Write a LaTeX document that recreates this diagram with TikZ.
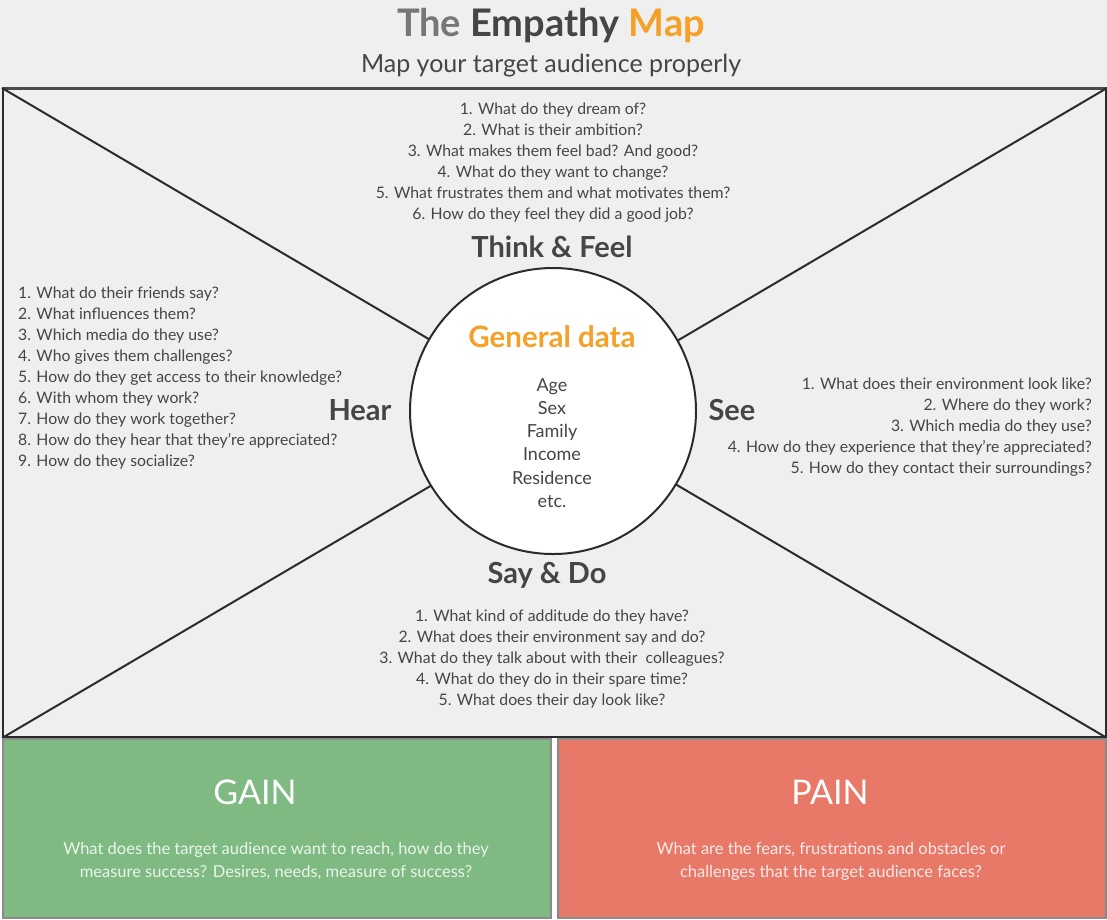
\documentclass[tikz,border=0pt]{standalone}
\usepackage{fontspec}
\setmainfont{Lato}
\usetikzlibrary{positioning}
\definecolor{mapgray}  {HTML}{EFEFEF}
\definecolor{framegray}{HTML}{2B2B2B}
\definecolor{rulegray} {HTML}{4A4A4A}
\definecolor{textgray} {HTML}{454545}
\definecolor{lightgray}{HTML}{777777}
\definecolor{maporange}{HTML}{F5A026}
\definecolor{gaingreen}{HTML}{7EBA82}
\definecolor{painred}  {HTML}{E87868}
\definecolor{boxedge}  {HTML}{8A8A8A}

\begin{document}
\begin{tikzpicture}[
  x=1pt, y=1pt,
  quest/.style ={font=\fontsize{15.8}{21}\selectfont,text=textgray,inner sep=0pt},
  head/.style  ={font=\fontsize{29}{32}\selectfont\bfseries,text=textgray,inner sep=0pt},
  field/.style ={font=\fontsize{18}{23.2}\selectfont,text=textgray,inner sep=0pt,align=center},
  tile/.style  ={draw=boxedge,line width=1.5pt,minimum width=548,minimum height=179,
                 anchor=north west,inner sep=0pt},
  tiletitle/.style={font=\fontsize{34}{38}\selectfont,text=white,inner sep=0pt},
  tiletext/.style ={font=\fontsize{16.5}{23}\selectfont,text=white,text opacity=0.85,
                    align=center,inner sep=0pt}
]
\useasboundingbox (0,0) rectangle (1107,-919);
\fill[white] (0,0) rectangle (1107,-919);
\fill[mapgray] (0,0) rectangle (1107,-737);

%% header
\node[inner sep=0pt,font=\fontsize{38}{42}\selectfont\bfseries] (title) at (551,-26)
  {\textcolor{lightgray}{The} \textcolor{textgray}{Empathy} \textcolor{maporange}{Map}};
\node[inner sep=0pt,font=\fontsize{25}{28}\selectfont,text=textgray] (subtitle) at (551,-66)
  {Map your target audience properly};

%% frame + diagonals
\node[draw=framegray,line width=2pt,minimum width=1103,minimum height=648,
      anchor=north west,inner sep=0pt] (frame) at (2,-88) {};
\draw[rulegray,line width=3pt] (frame.north west) -- (frame.north east);
\draw[framegray,line width=2pt] (frame.north west) -- (frame.south east);
\draw[framegray,line width=2pt] (frame.north east) -- (frame.south west);

%% centre circle
\node[circle,draw=framegray,line width=2pt,fill=white,minimum size=286] (core) at (553,-411) {};
\node[inner sep=0pt,font=\fontsize{29.5}{32}\selectfont\bfseries,text=maporange] (general) at (552,-337)
  {General data};
\node[field] (facts) at (552,-443) {Age\\Sex\\Family\\Income\\Residence\\etc.};

%% quadrants
\node[quest,align=center] (thinkq) at (553,-163)
  {1. What do they dream of?\\
   2. What is their ambition?\\
   3. What makes them feel bad? And good?\\
   4. What do they want to change?\\
   5. What frustrates them and what motivates them?\\
   6. How do they feel they did a good job?};
\node[head] (think) at (552,-247) {Think \& Feel};

\node[quest,align=left,anchor=west] (hearq) at (18,-378)
  {1. What do their friends say?\\
   2. What influences them?\\
   3. Which media do they use?\\
   4. Who gives them challenges?\\
   5. How do they get access to their knowledge?\\
   6. With whom they work?\\
   7. How do they work together?\\
   8. How do they hear that they’re appreciated?\\
   9. How do they socialize?};
\node[head] (hear) at (360,-410) {Hear};

\node[quest,align=right,anchor=east] (seeq) at (1092,-427)
  {1. What does their environment look like?\\
   2. Where do they work?\\
   3. Which media do they use?\\
   4. How do they experience that they’re appreciated?\\
   5. How do they contact their surroundings?};
\node[head] (see) at (732,-410) {See};

\node[head] (say) at (547,-575) {Say \& Do};
\node[quest,align=center] (sayq) at (552,-659)
  {1. What kind of additude do they have?\\
   2. What does their environment say and do?\\
   3. What do they talk about with their\ \ colleagues?\\
   4. What do they do in their spare time?\\
   5. What does their day look like?};

%% gain / pain
\node[tile,fill=gaingreen] (gainbox) at (2,-738) {};
\node[tile,fill=painred]   (painbox) at (557,-738) {};
\node[tiletitle] (gain) at (255,-792) {GAIN};
\node[tiletitle] (pain) at (830,-792) {PAIN};
\node[tiletext] (gaintext) at (276,-861)
  {What does the target audience want to reach, how do they\\
   measure success? Desires, needs, measure of success?};
\node[tiletext] (paintext) at (831,-861)
  {What are the fears, frustrations and obstacles or\\
   challenges that the target audience faces?};
\end{tikzpicture}
\end{document}
